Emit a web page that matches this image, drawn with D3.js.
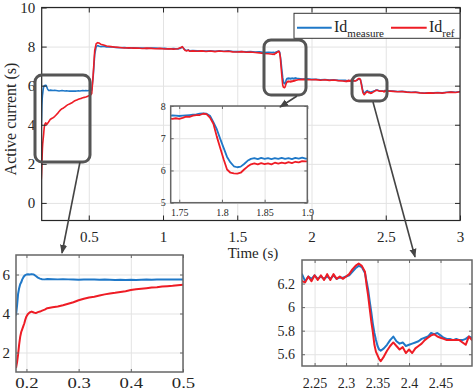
<!DOCTYPE html>
<html><head><meta charset="utf-8">
<script src="https://cdn.jsdelivr.net/npm/d3@7"></script>
<style>body{margin:0;background:#fff}svg{display:block}</style>
</head><body>
<svg id="c" width="474" height="392"></svg>
<script>
// ---- data (time in s, current) ----
const tA = [0.18,0.182,0.184,0.186,0.188,0.19,0.192,0.194,0.196,0.198,0.2,0.203,0.206,0.21,0.214,0.218,0.222,0.226,0.23,0.235,0.24,0.25,0.26,0.27,0.28,0.29,0.3,0.31,0.32,0.33,0.34,0.35,0.36,0.37,0.38,0.39,0.4,0.41,0.42,0.43,0.44,0.45,0.46,0.47,0.48,0.49,0.5];
const blueA = [3.9,4.4,5.0,5.3,5.5,5.6,5.75,5.85,5.93,5.97,6.0,6.01,6.0,6.02,6.0,5.92,5.84,5.79,5.76,5.75,5.77,5.76,5.75,5.76,5.75,5.74,5.73,5.74,5.75,5.74,5.73,5.74,5.73,5.72,5.73,5.72,5.73,5.72,5.73,5.74,5.73,5.74,5.75,5.74,5.75,5.74,5.75];
const redA = [1.2,1.5,1.9,2.4,2.8,3.05,3.2,3.35,3.5,3.7,3.85,3.98,4.05,4.1,4.05,4.02,4.07,4.1,4.15,4.2,4.27,4.32,4.36,4.42,4.5,4.58,4.68,4.76,4.82,4.86,4.92,4.98,5.03,5.06,5.1,5.14,5.2,5.24,5.27,5.3,5.33,5.35,5.38,5.4,5.42,5.45,5.48];

const tB = [0.51,0.52,0.53,0.54,0.55,0.56,0.57,0.58,0.6,0.62,0.65,0.68,0.71,0.74,0.77,0.8,0.83,0.86,0.89,0.92,0.95,0.98,1.01,1.04,1.07,1.1,1.12,1.13,1.14,1.15,1.16,1.17,1.18,1.2,1.23,1.26,1.29,1.32,1.35,1.38,1.41,1.44,1.47,1.5,1.53,1.56,1.59,1.62,1.65,1.68,1.71];
const blueB = [5.75,5.78,6.5,7.6,8.0,8.05,8.02,8.0,8.02,7.98,7.99,7.96,7.94,7.95,7.92,7.94,7.92,7.93,7.91,7.93,7.92,7.90,7.91,7.88,7.90,7.88,7.92,7.98,7.90,7.82,7.80,7.83,7.78,7.80,7.78,7.79,7.77,7.79,7.76,7.78,7.76,7.78,7.75,7.74,7.75,7.73,7.74,7.72,7.73,7.70,7.71];
const redB = [5.50,5.60,6.60,7.80,8.15,8.20,8.18,8.12,8.08,8.03,8.00,7.97,7.95,7.93,7.94,7.92,7.93,7.90,7.92,7.91,7.89,7.91,7.88,7.89,7.87,7.89,7.95,8.00,7.88,7.80,7.78,7.82,7.76,7.78,7.76,7.78,7.75,7.77,7.74,7.77,7.75,7.76,7.73,7.72,7.74,7.71,7.72,7.70,7.68,7.65,7.63];

const tC = [1.738,1.742,1.746,1.75,1.754,1.758,1.762,1.766,1.77,1.774,1.778,1.782,1.786,1.79,1.794,1.798,1.802,1.806,1.81,1.814,1.818,1.822,1.826,1.83,1.834,1.838,1.842,1.846,1.85,1.854,1.858,1.862,1.866,1.87,1.874,1.878,1.882,1.886,1.89,1.894,1.898];
const blueC = [7.69,7.71,7.70,7.69,7.70,7.71,7.72,7.73,7.74,7.76,7.77,7.76,7.70,7.50,7.28,6.98,6.70,6.42,6.25,6.13,6.10,6.12,6.20,6.30,6.36,6.38,6.35,6.39,6.36,6.38,6.35,6.38,6.36,6.39,6.36,6.38,6.35,6.39,6.37,6.40,6.37];
const redC = [7.61,7.60,7.62,7.60,7.63,7.67,7.66,7.70,7.72,7.72,7.76,7.75,7.64,7.45,7.05,6.70,6.35,6.03,5.93,5.91,5.90,5.93,6.03,6.12,6.19,6.22,6.19,6.23,6.20,6.22,6.19,6.24,6.21,6.24,6.22,6.26,6.23,6.27,6.25,6.29,6.28];

const tD = [1.91,1.94,1.97,2.0,2.03,2.06,2.09,2.12,2.15,2.18,2.21];
const blueD = [6.37,6.34,6.35,6.32,6.33,6.30,6.31,6.29,6.30,6.27,6.27];
const redD = [6.30,6.32,6.31,6.30,6.31,6.28,6.30,6.27,6.29,6.26,6.24];

const tE = [2.23,2.235,2.24,2.245,2.25,2.255,2.26,2.265,2.27,2.275,2.28,2.285,2.29,2.295,2.3,2.305,2.31,2.315,2.32,2.325,2.33,2.3325,2.335,2.3375,2.34,2.3425,2.345,2.3475,2.35,2.3525,2.355,2.36,2.365,2.37,2.375,2.38,2.385,2.39,2.395,2.4,2.405,2.41,2.415,2.42,2.425,2.43,2.435,2.44,2.445,2.45,2.455,2.46,2.465,2.47,2.475,2.48,2.485,2.49,2.495,2.5];
const blueE = [6.28,6.22,6.26,6.24,6.27,6.24,6.26,6.24,6.26,6.24,6.27,6.24,6.25,6.25,6.26,6.27,6.30,6.33,6.35,6.34,6.29,6.22,6.15,6.05,5.96,5.86,5.78,5.72,5.67,5.64,5.63,5.65,5.68,5.72,5.75,5.71,5.69,5.70,5.67,5.68,5.69,5.70,5.71,5.73,5.74,5.75,5.78,5.77,5.78,5.76,5.74,5.73,5.73,5.72,5.73,5.72,5.72,5.73,5.75,5.74];
const redE = [6.22,6.21,6.26,6.22,6.27,6.23,6.27,6.23,6.28,6.23,6.28,6.24,6.26,6.24,6.26,6.28,6.32,6.35,6.37,6.35,6.30,6.19,6.10,5.99,5.88,5.79,5.68,5.62,5.59,5.56,5.54,5.58,5.63,5.67,5.70,5.67,5.64,5.66,5.61,5.64,5.61,5.65,5.67,5.69,5.72,5.74,5.76,5.77,5.75,5.74,5.73,5.72,5.72,5.72,5.72,5.72,5.70,5.68,5.75,5.72];

const tF = [2.52,2.55,2.58,2.61,2.64,2.67,2.7,2.73,2.76,2.79,2.82,2.85,2.88,2.91,2.94,2.97,3.0];
const blueF = [5.74,5.72,5.70,5.71,5.68,5.66,5.67,5.64,5.62,5.64,5.63,5.65,5.63,5.66,5.68,5.66,5.70];
const redF = [5.73,5.71,5.69,5.70,5.67,5.65,5.66,5.63,5.61,5.63,5.62,5.64,5.62,5.65,5.67,5.65,5.69];

// tick labels
const mainXTicks = [0.5,1,1.5,2,2.5,3];
const mainYTicks = [0,2,4,6,8,10];
const in1XTicks = [1.75,1.8,1.85,1.9];
const in1YTicks = [5,6,7,8];
const in2XTicks = [0.2,0.3,0.4,0.5];
const in2YTicks = [2,4,6];
const in3XTicks = [2.25,2.3,2.35,2.4,2.45];
const in3YTicks = [5.6,5.8,6,6.2];
const seriesNames = ["measure","ref"];

// ---- build ----
const T = [...tA,...tB,...tC,...tD,...tE,...tF];
const BLUE = [...blueA,...blueB,...blueC,...blueD,...blueE,...blueF];
const RED = [...redA,...redB,...redC,...redD,...redE,...redF];
const blueCol = "#1f78c8", redCol = "#ee1c25", gridCol = "#e3e3e3";
const serif = '"Liberation Serif"';
const fmt = d => String(d);

const svg = d3.select("#c");
const defs = svg.append("defs");
defs.append("marker").attr("id","arr").attr("viewBox","0 0 10 10").attr("refX",9).attr("refY",5)
  .attr("markerUnits","userSpaceOnUse").attr("markerWidth",9).attr("markerHeight",9).attr("orient","auto")
  .append("path").attr("d","M0,1L10,5L0,9z").attr("fill","#444");

function panel(p){
  const x = d3.scaleLinear().domain(p.xd).range([p.l,p.r]);
  const y = d3.scaleLinear().domain(p.yd).range([p.b,p.t]);
  const w = p.r-p.l, h = p.b-p.t;
  const g = svg.append("g");
  defs.append("clipPath").attr("id","cp"+p.id).append("rect")
    .attr("x",p.l).attr("y",p.t).attr("width",w).attr("height",h);
  g.append("rect").attr("x",p.l).attr("y",p.t).attr("width",w).attr("height",h).attr("fill","#fff");
  const clean = s => { s.select(".domain").remove(); s.selectAll("line").attr("stroke",gridCol).attr("stroke-width",1); };
  g.append("g").attr("transform",`translate(0,${p.b})`)
    .call(d3.axisBottom(x).tickValues(p.xt).tickSize(-h).tickFormat("")).call(clean);
  g.append("g").attr("transform",`translate(${p.l},0)`)
    .call(d3.axisLeft(y).tickValues(p.yt).tickSize(-w).tickFormat("")).call(clean);
  const line = d3.line().x(d=>x(d[0])).y(d=>y(d[1]));
  const lg = g.append("g").attr("clip-path",`url(#cp${p.id})`);
  lg.append("path").datum(d3.zip(T,BLUE)).attr("d",line).attr("fill","none")
    .attr("stroke",blueCol).attr("stroke-width",p.lw).attr("stroke-linejoin","round");
  lg.append("path").datum(d3.zip(T,RED)).attr("d",line).attr("fill","none")
    .attr("stroke",redCol).attr("stroke-width",p.lw).attr("stroke-linejoin","round");
  const styleAx = (s, stretch) => {
    s.attr("font-family",null).attr("font-size",null);
    s.select(".domain").remove();
    s.selectAll("line").attr("stroke",p.bc).attr("stroke-width",1);
    s.selectAll("text").style("font-family",serif).style("font-size",p.fs+"px").attr("fill","#262626");
    if (stretch && p.sx) s.selectAll("text").attr("transform",`scale(${p.sx},1)`);
  };
  g.append("g").attr("transform",`translate(0,${p.b})`)
    .call(d3.axisBottom(x).tickValues(p.xt).tickSizeInner(-p.tk).tickSizeOuter(0).tickPadding(p.xpad).tickFormat(fmt)).call(styleAx, true);
  g.append("g").attr("transform",`translate(${p.l},0)`)
    .call(d3.axisLeft(y).tickValues(p.yt).tickSizeInner(-p.tk).tickSizeOuter(0).tickPadding(p.ypad).tickFormat(fmt)).call(styleAx, false);
  g.append("g").attr("transform",`translate(0,${p.t})`)
    .call(d3.axisTop(x).tickValues(p.xt).tickSizeInner(-p.tk).tickSizeOuter(0).tickFormat("")).call(styleAx, false);
  g.append("g").attr("transform",`translate(${p.r},0)`)
    .call(d3.axisRight(y).tickValues(p.yt).tickSizeInner(-p.tk).tickSizeOuter(0).tickFormat("")).call(styleAx, false);
  g.append("rect").attr("x",p.l).attr("y",p.t).attr("width",w).attr("height",h)
    .attr("fill","none").attr("stroke",p.bc).attr("stroke-width",p.bw);
  return {x,y,g};
}

// main
const M = panel({id:"m",l:41.7,r:460,t:7.5,b:220.5,xd:[0.183,3],yd:[-0.9,10],xt:mainXTicks,yt:mainYTicks,
  lw:1.6,bc:"#262626",bw:1.2,fs:15,tk:5,xpad:11,ypad:6.5});

svg.append("text").attr("x",253).attr("y",258).attr("text-anchor","middle")
  .style("font-family",serif).style("font-size","15px").attr("fill","#262626").text("Time (s)");
svg.append("text").attr("transform","translate(16,119) rotate(-90)").attr("text-anchor","middle")
  .style("font-family",serif).style("font-size","16px").attr("fill","#262626").text("Active current (s)");

// legend
const lgd = svg.append("g");
lgd.append("rect").attr("x",294).attr("y",13.3).attr("width",166).attr("height",25)
  .attr("fill","#fff").attr("stroke","#333").attr("stroke-width",1);
[[297,331.7,334,blueCol,seriesNames[0]],[391,426.7,429,redCol,seriesNames[1]]].forEach(([a,b,tx,c,sub])=>{
  lgd.append("line").attr("x1",a).attr("x2",b).attr("y1",27.7).attr("y2",27.7).attr("stroke",c).attr("stroke-width",2);
  const t = lgd.append("text").attr("x",tx).attr("y",32).style("font-family",serif).style("font-size","16px").attr("fill","#262626");
  t.append("tspan").text("Id");
  t.append("tspan").attr("dy",5).style("font-size","11px").text(sub);
});

// callout boxes
[[35,75,55,87],[264,40,42,55],[352,75,35,26]].forEach(([x,y,w,h])=>{
  svg.append("rect").attr("x",x).attr("y",y).attr("width",w).attr("height",h).attr("rx",7)
    .attr("fill","none").attr("stroke","#555").attr("stroke-width",3);
});

// insets
panel({id:"i1",l:170.7,r:307.3,t:106,b:202.7,xd:[1.74,1.9],yd:[5,8],xt:in1XTicks,yt:in1YTicks,
  lw:1.8,bc:"#666",bw:1.5,fs:10,tk:3,xpad:6,ypad:5});
panel({id:"i2",l:16,r:183,t:255,b:372,xd:[0.18,0.5],yd:[1,7],xt:in2XTicks,yt:in2YTicks,
  lw:2,bc:"#666",bw:1.5,fs:15,tk:3,xpad:5,ypad:6,sx:1.25});
panel({id:"i3",l:302,r:472,t:260,b:366,xd:[2.23,2.5],yd:[5.5,6.4],xt:in3XTicks,yt:in3YTicks,
  lw:2,bc:"#666",bw:1.5,fs:14,tk:3,xpad:12,ypad:7});

// arrows
[[80,162,62,253],[297,96,280,107],[373,102,415,257]].forEach(([x1,y1,x2,y2])=>{
  svg.append("line").attr("x1",x1).attr("y1",y1).attr("x2",x2).attr("y2",y2)
    .attr("stroke","#444").attr("stroke-width",1.6).attr("marker-end","url(#arr)");
});
</script>
</body></html>
